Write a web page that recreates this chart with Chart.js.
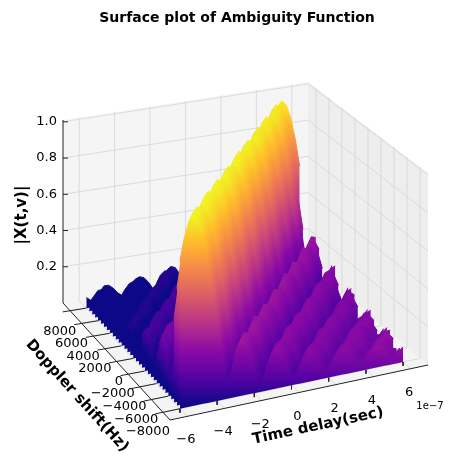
<!DOCTYPE html>
<html>
<head>
<meta charset="utf-8">
<script src="https://cdn.jsdelivr.net/npm/chart.js@4.4.1/dist/chart.umd.min.js"></script>
<style>
  html, body { margin: 0; padding: 0; background: #fff; }
  #wrap { width: 474px; height: 474px; position: relative; }
</style>
</head>
<body>
<div id="wrap"><canvas id="chart" width="474" height="474"></canvas></div>
<script>
// tick labels
const timeTicks = [-6, -4, -2, 0, 2, 4, 6];
const dopplerTicks = [-8000, -6000, -4000, -2000, 0, 2000, 4000, 6000, 8000];
const zTicks = [0.2, 0.4, 0.6, 0.8, 1.0];

// doppler slices (Hz), front to back
const dopplerSlices = [-8000, -7500, -7000, -6500, -6000, -5500, -5000, -4500, -4000, -3500, -3000,
  -2500, -2000, -1500, -1000, -500, 0, 500, 1000, 1500, 2000, 2500, 3000, 3500, 4000, 4500, 5000,
  5500, 6000, 6500, 7000, 7500, 8000];
// ridge position (1e-7 s) and ridge height read per slice
const ridgeCenter = [-5.30, -4.98, -4.66, -4.34, -4.03, -3.71, -3.39, -3.07, -2.75, -2.43, -2.11,
  -1.79, -1.48, -1.16, -0.84, -0.52, -0.20, 0.12, 0.44, 0.76, 1.08, 1.39, 1.71, 2.03, 2.35, 2.67,
  2.99, 3.31, 3.63, 3.94, 4.26, 4.58, 4.90];
const ridgePeak = [1.00, 1.00, 1.00, 1.00, 1.00, 1.00, 1.00, 1.00, 1.00, 1.00, 1.00,
  0.99, 0.99, 0.99, 0.99, 0.99, 0.99, 0.99, 0.99, 0.99, 0.99, 0.99,
  0.98, 0.98, 0.98, 0.98, 0.98, 0.98, 0.97, 0.97, 0.97, 0.97, 0.97];
// |X| across the ridge, by distance from ridge centre in steps of 0.25e-7 s
const crossProfile = [1.00, 0.97, 0.89, 0.77, 0.61, 0.44, 0.27, 0.10, 0.13, 0.24, 0.29, 0.28, 0.23,
  0.14, 0.06, 0.07, 0.15, 0.20, 0.21, 0.18, 0.12, 0.05, 0.05, 0.11, 0.15, 0.16, 0.14, 0.09, 0.04,
  0.05, 0.09, 0.12, 0.13, 0.12, 0.09, 0.05, 0.04, 0.06, 0.09, 0.11, 0.11, 0.08, 0.05, 0.04, 0.06,
  0.08, 0.09, 0.08, 0.06, 0.04, 0.04];

// time samples across each slice
const timeSamples = [];
for (let t = -6; t <= 6.0001; t += 0.25) timeSamples.push(+t.toFixed(2));

// projection of the 3d box onto the picture
function box(a, b, c) {
  const w = [(1 - a) * (1 - b), a * (1 - b), (1 - a) * b, a * b];
  const x = w[0] * 170 + w[1] * 428 + w[2] * 63 + w[3] * 308;
  const y = w[0] * 420 + w[1] * 365 + w[2] * 303 + w[3] * 265;
  const h = w[0] * 195 + w[1] * 192 + w[2] * 183 + w[3] * 183;
  return { x: x, y: y - c * h };
}
function proj(t, d, z) {
  return box(0.066 + 0.868 * (t + 6) / 12, 0.066 + 0.868 * (d + 8000) / 16000, z / 1.01);
}

const plasma = ['#0d0887', '#5302a3', '#8b0aa5', '#b83289', '#db5c68', '#f48849', '#febd2a', '#f0f921'];

function sliceGradient(ctx, i) {
  const chart = ctx.chart;
  if (!chart.chartArea) return plasma[1];
  const ys = chart.scales.y;
  const y0 = ys.getPixelForValue(proj(ridgeCenter[i], dopplerSlices[i], 0).y);
  const y1 = ys.getPixelForValue(proj(ridgeCenter[i], dopplerSlices[i], 1).y);
  if (!isFinite(y0) || !isFinite(y1)) return plasma[1];
  const g = chart.ctx.createLinearGradient(0, y0, 0, y1);
  plasma.forEach((c, k) => g.addColorStop(k / (plasma.length - 1), c));
  return g;
}

const datasets = [];
const noPts = { pointRadius: 0, pointHoverRadius: 0, showLine: true };

// surface slices, front first so they are painted last
dopplerSlices.forEach((d, i) => {
  const pts = timeSamples.map(t => {
    const k = Math.min(crossProfile.length - 1, Math.round(Math.abs(t - ridgeCenter[i]) / 0.25));
    return proj(t, d, ridgePeak[i] * crossProfile[k]);
  });
  datasets.push(Object.assign({
    data: pts, borderWidth: 1, fill: '+1',
    borderColor: ctx => sliceGradient(ctx, i),
    backgroundColor: ctx => sliceGradient(ctx, i)
  }, noPts));
  datasets.push(Object.assign({
    data: timeSamples.map(t => proj(t, d, 0)), borderWidth: 0, borderColor: 'rgba(0,0,0,0)', fill: false
  }, noPts));
});

function seg(p, q, color, width) {
  datasets.push(Object.assign({ data: [p, q], borderColor: color, borderWidth: width, fill: false }, noPts));
}
// axis lines
seg(box(0, 0, 0), box(1, 0, 0), '#222', 1);
seg(box(0, 0, 0), box(0, 1, 0), '#222', 1);
seg(box(0, 1, 0), box(0, 1, 1), '#222', 1);
timeTicks.forEach(t => { const p = proj(t, -8000, 0); seg(p, { x: p.x, y: p.y + 4 }, '#222', 1); });
dopplerTicks.forEach(d => { const p = proj(-6, d, 0); const q = box(-0.03, 0.066 + 0.868 * (d + 8000) / 16000, 0); seg(p, q, '#222', 1); });
zTicks.forEach(z => { const q = box(0, 1, z / 1.01); seg(q, { x: q.x + 5, y: q.y }, '#222', 1); });

// grid lines on the panes
const gridColor = '#d4d4d4';
timeTicks.forEach(t => {
  const a = 0.066 + 0.868 * (t + 6) / 12;
  seg(box(a, 0, 0), box(a, 1, 0), gridColor, 0.8);
  seg(box(a, 1, 0), box(a, 1, 1), gridColor, 0.8);
});
dopplerTicks.forEach(d => {
  const b = 0.066 + 0.868 * (d + 8000) / 16000;
  seg(box(0, b, 0), box(1, b, 0), gridColor, 0.8);
  seg(box(1, b, 0), box(1, b, 1), gridColor, 0.8);
});
zTicks.forEach(z => {
  seg(box(0, 1, z / 1.01), box(1, 1, z / 1.01), gridColor, 0.8);
  seg(box(1, 0, z / 1.01), box(1, 1, z / 1.01), gridColor, 0.8);
});

// panes
function pane(pts, color) {
  datasets.push(Object.assign({ data: pts.concat([pts[0]]), borderWidth: 0, borderColor: 'rgba(0,0,0,0)', backgroundColor: color, fill: 'shape' }, noPts));
}
pane([box(0, 0, 0), box(1, 0, 0), box(1, 1, 0), box(0, 1, 0)], '#f4f4f4');
pane([box(0, 1, 0), box(1, 1, 0), box(1, 1, 1), box(0, 1, 1)], '#f5f5f5');
pane([box(1, 0, 0), box(1, 1, 0), box(1, 1, 1), box(1, 0, 1)], '#eeeeee');

// text labels
const labelsPlugin = {
  id: 'labels3d',
  afterDraw(chart) {
    const ctx = chart.ctx, xs = chart.scales.x, ys = chart.scales.y;
    const px = p => ({ x: xs.getPixelForValue(p.x), y: ys.getPixelForValue(p.y) });
    ctx.save();
    ctx.fillStyle = '#000';
    ctx.font = 'bold 14px "DejaVu Sans"';
    ctx.textAlign = 'center';
    ctx.textBaseline = 'middle';
    ctx.fillText('Surface plot of Ambiguity Function', 237, 18);

    ctx.font = '13px "DejaVu Sans"';
    timeTicks.forEach(t => {
      const p = px(proj(t, -8000, 0));
      ctx.fillText(t < 0 ? '\u2212' + (-t) : String(t), p.x + 6, p.y + 31);
    });
    ctx.font = '10px "DejaVu Sans"';
    ctx.fillText('1e\u22127', 430, 406);
    ctx.font = '13px "DejaVu Sans"';
    ctx.textAlign = 'right';
    dopplerTicks.forEach(d => {
      const p = px(proj(-6, d, 0));
      ctx.fillText(d < 0 ? '\u2212' + (-d) : String(d), p.x - 10, p.y + 23);
    });
    zTicks.forEach(z => {
      const p = px(box(0, 1, z / 1.01));
      ctx.fillText(z.toFixed(1), p.x - 6, p.y);
    });

    ctx.font = 'bold 15px "DejaVu Sans"';
    ctx.textAlign = 'center';
    ctx.save(); ctx.translate(22, 215); ctx.rotate(-Math.PI / 2);
    ctx.fillText('|X(t,v)|', 0, 0); ctx.restore();
    ctx.save(); ctx.translate(77, 396); ctx.rotate(48 * Math.PI / 180);
    ctx.fillText('Doppler shift(Hz)', 0, 0); ctx.restore();
    ctx.save(); ctx.translate(318, 426); ctx.rotate(-12 * Math.PI / 180);
    ctx.fillText('Time delay(sec)', 0, 0); ctx.restore();
    ctx.restore();
  }
};

new Chart(document.getElementById('chart'), {
  type: 'scatter',
  data: { datasets: datasets },
  options: {
    responsive: false,
    animation: false,
    layout: { padding: 0 },
    plugins: { legend: { display: false }, tooltip: { enabled: false } },
    scales: {
      x: { type: 'linear', min: 0, max: 474, display: false },
      y: { type: 'linear', min: 0, max: 474, reverse: true, display: false }
    }
  },
  plugins: [labelsPlugin]
});
</script>
</body>
</html>
